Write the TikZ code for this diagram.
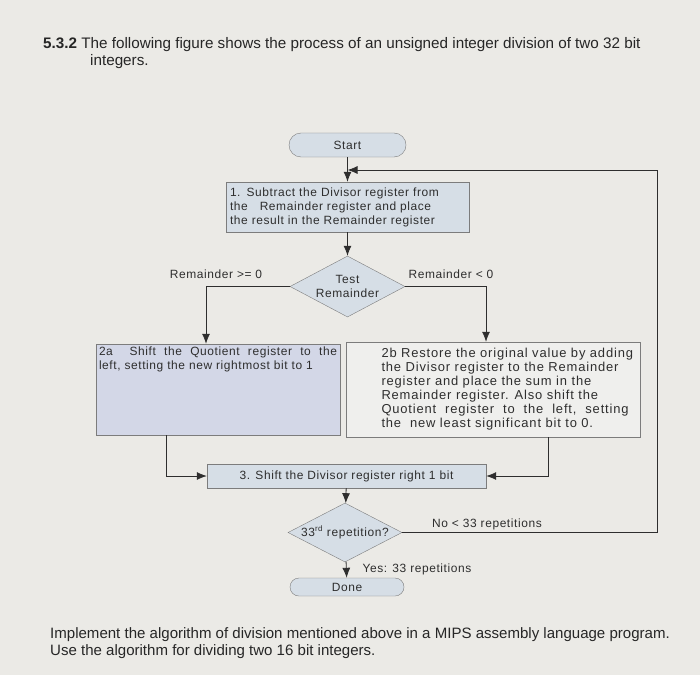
\documentclass[tikz,border=0pt]{standalone}
\usepackage{fontspec}
\setmainfont{Liberation Sans}
\newfontfamily\chartfont[LetterSpace=5]{Liberation Sans}
\newfontfamily\widefont[LetterSpace=6.5]{Liberation Sans}
\usetikzlibrary{shapes.geometric,positioning,arrows.meta}
\definecolor{paper}{HTML}{EBEAE6}
\definecolor{stepfill}{HTML}{D6DEE6}
\definecolor{shiftfill}{HTML}{D3D7E7}
\definecolor{restfill}{HTML}{EFEFED}
\definecolor{edgegray}{HTML}{7C7C7C}
\definecolor{ink}{HTML}{2E2E2E}
\begin{document}
\begin{tikzpicture}[x=1bp, y=-1bp, >={Latex[length=10bp,width=8bp]},
  every node/.style={font=\chartfont\fontsize{12}{14}\selectfont, text=ink},
  stepbox/.style={draw=edgegray, fill=stepfill, inner sep=0pt},
  term/.style={stepbox, rounded corners=#1},
  test/.style={stepbox, diamond, aspect=2},
  lbl/.style={inner sep=0pt},
  note/.style={anchor=west, inner sep=0pt, align=left, font=\fontsize{15.3}{17.5}\selectfont, text=black!85},
  conn/.style={->, draw=ink, line width=0.8pt}]
\fill [paper] (0,0) rectangle (700,675);
\useasboundingbox (0,0) rectangle (700,675);
\node [note] (title) at (43,53)
  {\textbf{5.3.2} The following figure shows the process of an unsigned integer division of two 32 bit\\\hspace*{47bp}integers.};
\node [term=12bp, minimum width=117bp, minimum height=24bp] (start) at (347.5,145) {Start};
\node [stepbox, minimum width=243bp, minimum height=50bp, text width=235bp, inner xsep=4bp, align=left] (sub) at (347.5,207)
  {1. Subtract the Divisor register from\\the\ \ \ Remainder register and place\\the result in the Remainder register};
\node [test, minimum width=115bp, minimum height=61bp, align=center] (rem) at (347.5,286.5) {Test\\Remainder};
\node [stepbox, fill=shiftfill, minimum width=244bp, minimum height=91bp] (shiftq) at (218,389.5)
  {\parbox[c][85bp][t]{238bp}{2a\ \ Shift the Quotient register to the\linebreak left, setting the new rightmost bit to 1}};
\node [stepbox, fill=restfill, minimum width=294bp, minimum height=95bp, font=\widefont\fontsize{13}{14}\selectfont] (restore) at (493,389.5)
  {\hspace*{31bp}\parbox[c]{254bp}{\raggedright 2b Restore the original value by adding\\the Divisor register to the Remainder\\register and place the sum in the\\Remainder register. Also shift the\\Quotient\ \ register\ \ to\ \ the\ \ left,\ \ setting\\the\ \ new least significant bit to 0.}};
\node [stepbox, minimum width=279bp, minimum height=24bp] (shiftd) at (346.5,476) {3. Shift the Divisor register right 1 bit};
\node [test, minimum width=114bp, minimum height=59bp] (rep) at (345,532.5) {33\textsuperscript{rd} repetition?};
\node [term=9bp, minimum width=114bp, minimum height=18bp] (done) at (347,587) {Done};
\node [lbl] (geq) at (216,274) {Remainder >= 0};
\node [lbl] (less) at (451,274) {Remainder < 0};
\node [lbl] (no) at (487,524) {No < 33 repetitions};
\node [lbl] (yes) at (417,569) {Yes: 33 repetitions};
\coordinate (loopc) at (657,170);
\coordinate (join) at (347.5,170);
\draw [conn] (start) -- (sub);
\draw [conn] (sub) -- (rem);
\draw [conn] (rem.west) -| ([xshift=-12bp]shiftq.north);
\draw [conn] (rem.east) -| ([xshift=-7bp]restore.north);
\draw [conn] ([xshift=-52bp]shiftq.south) |- (shiftd.west);
\draw [conn] ([xshift=55bp]restore.south) |- (shiftd.east);
\draw [conn] (shiftd) -- (rep);
\draw [conn] (rep) -- (done);
\draw [conn] (rep.east) -| (loopc) -- (join);
\node [note, font=\fontsize{15.1}{17}\selectfont] (task) at (50,643.5)
  {Implement the algorithm of division mentioned above in a MIPS assembly language program.\\Use the algorithm for dividing two 16 bit integers.};
\end{tikzpicture}
\end{document}
